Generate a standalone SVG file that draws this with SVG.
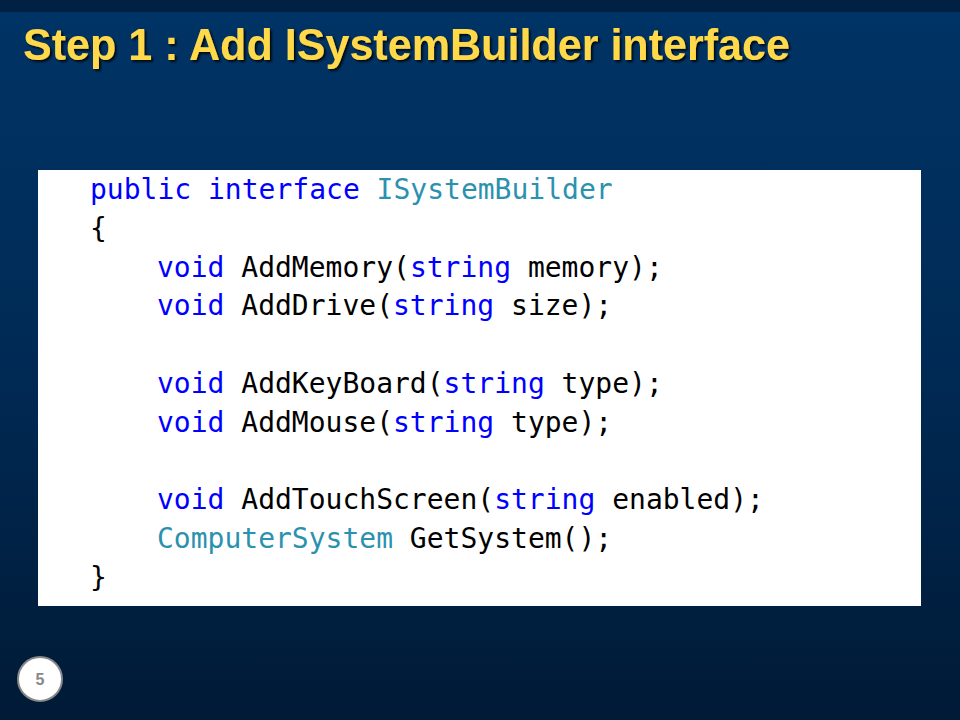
<svg xmlns="http://www.w3.org/2000/svg" width="960" height="720" viewBox="0 0 960 720">
<defs>
<linearGradient id="bg" x1="0" y1="0" x2="0" y2="1">
<stop offset="0" stop-color="#003466"/>
<stop offset="0.5" stop-color="#002a55"/>
<stop offset="1" stop-color="#001a36"/>
</linearGradient>
<filter id="sh"><feDropShadow dx="2" dy="2" stdDeviation="0.8" flood-color="#000" flood-opacity="0.8"/></filter>
</defs>
<style>
.code{font-family:"DejaVu Sans Mono","Liberation Mono",monospace;font-size:28px;fill:#000}
.kw{fill:#0000ff}
.ty{fill:#2b91af}
</style>
<rect width="960" height="720" fill="url(#bg)"/>
<rect x="0" y="0" width="960" height="12" fill="#00152c" opacity="0.6"/>
<g id="title"><text x="23" y="60" font-family="Liberation Sans, Arial, sans-serif" font-weight="bold" font-size="45" fill="#ffd94a" filter="url(#sh)" textLength="767" lengthAdjust="spacingAndGlyphs">Step 1 : Add ISystemBuilder interface</text></g>
<g id="code">
<rect x="38" y="170" width="883" height="436" fill="#fff"/>
<text class="code" xml:space="preserve" transform="translate(0,2)">
<tspan x="90" y="197"><tspan class="kw">public</tspan> <tspan class="kw">interface</tspan> <tspan class="ty">ISystemBuilder</tspan></tspan>
<tspan x="90" y="236">{</tspan>
<tspan x="157" y="275"><tspan class="kw">void</tspan> AddMemory(<tspan class="kw">string</tspan> memory);</tspan>
<tspan x="157" y="313"><tspan class="kw">void</tspan> AddDrive(<tspan class="kw">string</tspan> size);</tspan>
<tspan x="157" y="391"><tspan class="kw">void</tspan> AddKeyBoard(<tspan class="kw">string</tspan> type);</tspan>
<tspan x="157" y="430"><tspan class="kw">void</tspan> AddMouse(<tspan class="kw">string</tspan> type);</tspan>
<tspan x="157" y="507"><tspan class="kw">void</tspan> AddTouchScreen(<tspan class="kw">string</tspan> enabled);</tspan>
<tspan x="157" y="546"><tspan class="ty">ComputerSystem</tspan> GetSystem();</tspan>
<tspan x="90" y="585">}</tspan>
</text>
</g>
<g id="page"><circle cx="40" cy="679" r="22" fill="#fff" stroke="#888" stroke-width="2"/>
<text x="40" y="685" text-anchor="middle" font-family="Liberation Sans, Arial, sans-serif" font-weight="bold" font-size="16" fill="#888">5</text></g>
</svg>
